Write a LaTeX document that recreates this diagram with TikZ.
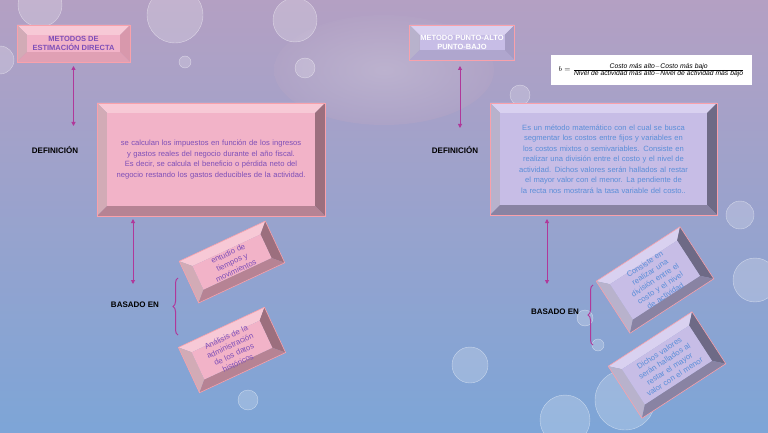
\documentclass[tikz,border=0pt]{standalone}
\usepackage{amsmath}
\usepackage{fontspec}
\setmainfont{Liberation Sans}
\usetikzlibrary{decorations.pathreplacing,arrows.meta}
\hyphenpenalty=10000 \exhyphenpenalty=10000
\definecolor{pinkF}{HTML}{F2B3C8}
\definecolor{pinkL}{HTML}{F7C9D6}
\definecolor{pinkD}{HTML}{9C6F7E}
\definecolor{pinkM}{HTML}{D898AC}
\definecolor{lavF}{HTML}{C7BDE6}
\definecolor{lavL}{HTML}{D9D1F0}
\definecolor{lavD}{HTML}{6E6A86}
\definecolor{lavM}{HTML}{A59CC4}
\definecolor{txtP}{HTML}{7E4FB8}
\definecolor{txtB}{HTML}{5B8ED8}
\definecolor{arr}{HTML}{B0389A}
\tikzset{
  pics/bevel/.style n args={5}{code={
    \def\bw{#1}\def\bh{#2}\def\bb{10}
    \fill[#4] (-\bw/2,-\bh/2) -- (\bw/2,-\bh/2) -- (\bw/2-\bb,-\bh/2+\bb) -- (-\bw/2+\bb,-\bh/2+\bb) -- cycle;
    \fill[#4!85!black] (-\bw/2,-\bh/2) -- (-\bw/2+\bb,-\bh/2+\bb) -- (-\bw/2+\bb,\bh/2-\bb) -- (-\bw/2,\bh/2) -- cycle;
    \fill[#5] (\bw/2,-\bh/2) -- (\bw/2,\bh/2) -- (\bw/2-\bb,\bh/2-\bb) -- (\bw/2-\bb,-\bh/2+\bb) -- cycle;
    \fill[#5!70!#3] (-\bw/2,\bh/2) -- (\bw/2,\bh/2) -- (\bw/2-\bb,\bh/2-\bb) -- (-\bw/2+\bb,\bh/2-\bb) -- cycle;
    \fill[#3] (-\bw/2+\bb,-\bh/2+\bb) rectangle (\bw/2-\bb,\bh/2-\bb);
    \draw[pinkL!80!red, line width=0.6pt] (-\bw/2,-\bh/2) rectangle (\bw/2,\bh/2);
  }},
  dbl/.style={{Triangle[length=4pt,width=4pt]}-{Triangle[length=4pt,width=4pt]}, arr, line width=0.9pt},
  lbl/.style={font=\fontsize{8}{9}\selectfont\bfseries, inner sep=0pt, text=black},
  bodyP/.style={font=\fontsize{7.6}{10.5}\selectfont, text=txtP, align=center},
  bodyB/.style={font=\fontsize{7.6}{10.5}\selectfont, text=txtB, align=center},
  small/.style={font=\fontsize{7.8}{9.4}\selectfont},
  brace/.style={decorate, decoration={brace, amplitude=5pt}, arr, line width=1pt},
  bub/.style={fill=white, fill opacity=0.2, draw=white, draw opacity=0.5}
}
\begin{document}
\begin{tikzpicture}[x=1pt,y=-1pt]
\useasboundingbox (0,0) rectangle (768,433);
\shade[top color={rgb,255:red,180;green,160;blue,195}, bottom color={rgb,255:red,125;green,165;blue,215}] (0,0) rectangle (768,433);
\shade[inner color={rgb,255:red,205;green,195;blue,215}, outer color={rgb,255:red,180;green,165;blue,198}, opacity=0.5] (384,70) ellipse (110 and 55);
\foreach \x/\y/\r in {40/5/22, 175/15/28, 295/20/22, 0/60/14, 305/68/10, 185/62/6, 740/215/14, 755/280/22, 470/365/18, 565/420/25, 248/400/10, 585/318/8, 598/345/6, 520/95/10, 625/400/30}
  \path[bub] (\x,\y) circle (\r);
% left
\path (73.5,43.5) pic{bevel={113}{37}{pinkF}{pinkL}{pinkM}};
\node[font=\fontsize{7.5}{9}\selectfont\bfseries, text=txtP, align=center] (t1) at (73.5,43.5) {METODOS DE\\ESTIMACIÓN DIRECTA};
\path (211,159.5) pic{bevel={228}{113}{pinkF}{pinkL}{pinkD}};
\node[bodyP, text width=190pt] (b1) at (211,159.5) {se calculan los impuestos en función de los ingresos y gastos reales del negocio durante el año fiscal. Es decir, se calcula el beneficio o pérdida neto del negocio restando los gastos deducibles de la actividad.};
\draw[dbl] (73.5,66) coordinate(a1) -- (73.5,126) coordinate(a2);
\node[lbl] (d1) at (55,150) {DEFINICIÓN};
\draw[dbl] (133,219) coordinate(a3) -- (133,284) coordinate(a4);
\node[lbl] (be1) at (135,305) {BASADO EN};
\draw[brace] (178,335) coordinate(c1) -- (178,278) coordinate(c2);
\path (232,262) pic[rotate=25]{bevel={95}{46}{pinkF}{pinkL}{pinkD}};
\node[bodyP, small, rotate=25, text width=60pt] (s1) at (232,262) {entudio de tiempos y movimientos};
\path (232,350) pic[rotate=25]{bevel={95}{50}{pinkF}{pinkL}{pinkD}};
\node[bodyP, small, rotate=25, text width=62pt] (s2) at (232,350) {Análisis de la administración de los datos históricos};
% right
\path (462,42.5) pic{bevel={105}{35}{lavF}{lavL}{lavM}};
\node[font=\fontsize{7.5}{9}\selectfont\bfseries, text=white, align=center] (t2) at (462,42.5) {METODO PUNTO-ALTO\\PUNTO-BAJO};
\node[fill=white, minimum width=201pt, minimum height=30pt, inner sep=1pt, font=\fontsize{6.8}{7}\selectfont] (f) at (651.5,70) {$b=\frac{\mbox{\itshape Costo más alto}-\mbox{\itshape Costo más bajo}}{\mbox{\itshape Nivel de actividad más alto}-\mbox{\itshape Nivel de actividad más bajo}}$};
\path (603.5,159) pic{bevel={227}{112}{lavF}{lavL}{lavD}};
\node[bodyB, text width=190pt] (b2) at (603.5,159) {Es un método matemático con el cual se busca segmentar los costos entre fijos y variables en los costos mixtos o semivariables. Consiste en realizar una división entre el costo y el nivel de actividad. Dichos valores serán hallados al restar el mayor valor con el menor. La pendiente de la recta nos mostrará la tasa variable del costo..};
\draw[dbl] (460,66) coordinate(a5) -- (460,128) coordinate(a6);
\node[lbl] (d2) at (455,150) {DEFINICIÓN};
\draw[dbl] (547,219) coordinate(a7) -- (547,284) coordinate(a8);
\node[lbl] (be2) at (555,312) {BASADO EN};
\draw[brace] (593,345) coordinate(c3) -- (593,285) coordinate(c4);
\path (655,280) pic[rotate=33]{bevel={100}{62}{lavF}{lavL}{lavD}};
\node[bodyB, small, rotate=33, text width=62pt] (s3) at (655,280) {Consiste en realizar una división entre el costo y el nivel de actividad};
\path (667,365) pic[rotate=33]{bevel={100}{62}{lavF}{lavL}{lavD}};
\node[bodyB, small, rotate=33, text width=68pt] (s4) at (667,365) {Dichos valores serán hallados al restar el mayor valor con el menor};
\end{tikzpicture}
\end{document}
